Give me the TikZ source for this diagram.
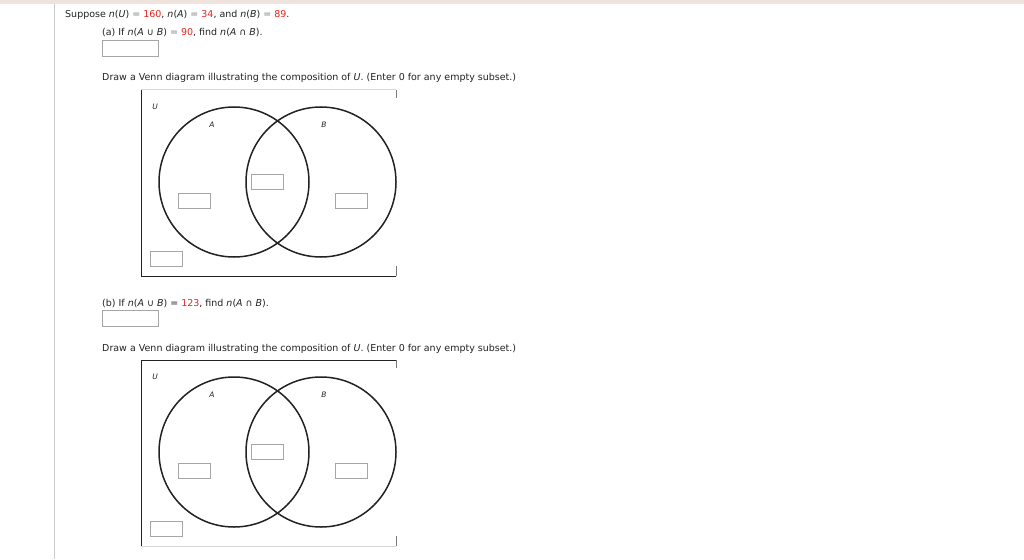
\documentclass[tikz,border=0pt]{standalone}
\usepackage{fontspec}
\setmainfont{DejaVu Sans}
\usetikzlibrary{positioning}
\definecolor{given}{HTML}{E3261F}
\definecolor{strip}{HTML}{F0E2DD}
\definecolor{rulegray}{HTML}{CCCCCC}
\definecolor{ink}{HTML}{222222}
\definecolor{faint}{HTML}{D8D8D8}
\definecolor{tick}{HTML}{777777}
\newcommand{\nv}[1]{\textit{#1}}

\begin{document}
\begin{tikzpicture}[x=1pt, y=-1pt,
    every node/.style={font=\fontsize{9.5}{11}\selectfont, text=ink},
    line/.style={anchor=base west, inner sep=0pt},
    field/.style={draw=gray!70, fill=white, minimum width=32pt, minimum height=15pt, inner sep=0pt},
    answer/.style={field, minimum width=56pt, minimum height=16pt, anchor=north west},
    set/.style={draw=ink, line width=1.5pt, circle, minimum size=150pt, inner sep=0pt},
    setname/.style={font=\fontsize{7.5}{8}\selectfont\itshape, inner sep=0pt}
  ]
  \useasboundingbox (0,0) rectangle (1024,559);
  % page header and margin rule
  \fill[strip] (0,0) rectangle (1024,4);
  \draw[rulegray] (54,4) -- (54,559);

  \node[line] (given) at (65,18) {Suppose \nv{n}(\nv{U}) \textcolor{gray}{=} \textcolor{given}{160}, \nv{n}(\nv{A}) \textcolor{gray}{=} \textcolor{given}{34}, and \nv{n}(\nv{B}) \textcolor{gray}{=} \textcolor{given}{89}.};

  % both parts use the same layout, the second one 270 lower
  \foreach \part/\union/\dy/\eqc/\topc/\botc in {a/90/0/gray/faint/ink, b/123/270/ink/ink/faint} {
    \node[line] (ask-\part) at (102,36+\dy) {(\part) If \nv{n}(\nv{A} ∪ \nv{B}) \textcolor{\eqc}{=} \textcolor{given}{\union}, find \nv{n}(\nv{A} ∩ \nv{B}).};
    \node[answer] (reply-\part) at (102,40+\dy) {};
    \node[line] (draw-\part) at (102,81+\dy) {Draw a Venn diagram illustrating the composition of \nv{U}. (Enter 0 for any empty subset.)};

    % universe frame
    \node[minimum width=255pt, minimum height=186pt, inner sep=0pt, anchor=north west] (frame-\part) at (141,90+\dy) {};
    \draw[\topc, line width=1pt] (frame-\part.north west) -- (frame-\part.north east);
    \draw[\botc, line width=1pt] (frame-\part.south west) -- (frame-\part.south east);
    \draw[ink, line width=1pt] (frame-\part.north west) -- (frame-\part.south west);
    \draw[tick, line width=1pt] (frame-\part.north east) -- ++(0,8);
    \draw[tick, line width=1pt] (frame-\part.south east) -- ++(0,-10);
    \node[setname] (U-\part) at (155,107+\dy) {U};

    % the two sets
    \node[set] (A-\part) at (234,182+\dy) {};
    \node[set] (B-\part) at (321,182+\dy) {};
    \node[setname] (nameA-\part) at (212,125+\dy) {A};
    \node[setname] (nameB-\part) at (324,125+\dy) {B};

    % entry fields for the four regions
    \node[field] (onlyA-\part) at (194.5,200.5+\dy) {};
    \node[field] (both-\part) at (267,181.5+\dy) {};
    \node[field] (onlyB-\part) at (351.5,200.5+\dy) {};
    \node[field] (none-\part) at (166.5,259+\dy) {};
  }
\end{tikzpicture}
\end{document}
